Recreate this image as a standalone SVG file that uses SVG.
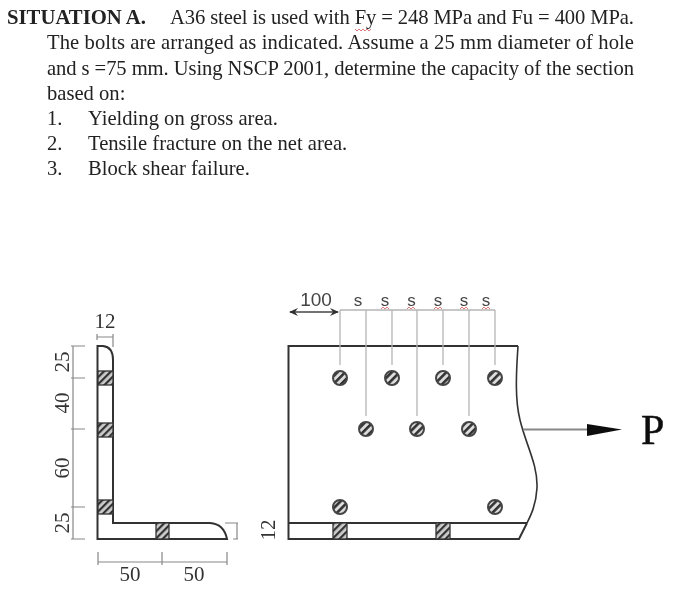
<svg xmlns="http://www.w3.org/2000/svg" width="700" height="598" viewBox="0 0 700 598">
<style>
.t{font-family:"Liberation Serif","Times New Roman",serif;font-size:20.6px;fill:#222}
.d{font-family:"Liberation Serif","Times New Roman",serif;font-size:21px;fill:#333}
.o{fill:none;stroke:#333;stroke-width:2}
.m{fill:none;stroke:#888;stroke-width:1.2}
.g{fill:none;stroke:#b5b5b5;stroke-width:1.3}
.h{fill:url(#hatch);stroke:#333;stroke-width:1.3}
.b{fill:url(#hatch2);stroke:#444;stroke-width:2}
.sq{fill:none;stroke:#d96a6a;stroke-width:.9}
.s{font-family:"Liberation Sans",Arial,sans-serif;font-size:17px;fill:#444}
</style>
<defs>
<pattern id="hatch" width="5" height="5" patternUnits="userSpaceOnUse" patternTransform="rotate(45)"><rect width="5" height="5" fill="#ccc"/><rect width="2.2" height="5" fill="#333"/></pattern>
<pattern id="hatch2" width="5.5" height="5.5" patternUnits="userSpaceOnUse" patternTransform="rotate(-45)"><rect width="5.5" height="5.5" fill="#ddd"/><rect width="5.5" height="2.6" fill="#333"/></pattern>
<marker id="ah" markerWidth="9" markerHeight="8" refX="8" refY="4" orient="auto-start-reverse" markerUnits="userSpaceOnUse"><path d="M0 0L9 4L0 8L3 4Z" fill="#333"/></marker>
<filter id="soft" x="0" y="0" width="100%" height="100%"><feGaussianBlur stdDeviation="0.55"/></filter>
</defs>
<rect width="700" height="598" fill="#fff"/>
<g filter="url(#soft)">
<g id="statement">
<text class="t" x="7" y="24" font-weight="bold" textLength="139" lengthAdjust="spacingAndGlyphs">SITUATION A.</text>
<text class="t" x="170" y="24" textLength="464" lengthAdjust="spacing">A36 steel is used with Fy = 248 MPa and Fu = 400 MPa.</text>
<text class="t" x="47" y="49" textLength="587" lengthAdjust="spacing">The bolts are arranged as indicated. Assume a 25 mm diameter of hole</text>
<text class="t" x="47" y="75" textLength="587" lengthAdjust="spacing">and s =75 mm. Using NSCP 2001, determine the capacity of the section</text>
<text class="t" x="47" y="100">based on:</text>
<text class="t" x="47" y="125">1.</text><text class="t" x="88" y="125">Yielding on gross area.</text>
<text class="t" x="47" y="150">2.</text><text class="t" x="88" y="150">Tensile fracture on the net area.</text>
<text class="t" x="47" y="175">3.</text><text class="t" x="88" y="175">Block shear failure.</text>
<path class="sq" d="M355 29l2 2 2-2 2 2 2-2 2 2 2-2 2 2 2-2"/>
</g>
<g id="angle-section">
<path class="o" d="M97.5 346H103Q113 347 113 360V523H210Q224 524 227 539H97.5Z"/>
<rect class="h" x="98" y="371" width="15" height="14"/>
<rect class="h" x="98" y="423" width="15" height="14"/>
<rect class="h" x="98" y="500" width="15" height="14"/>
<rect class="h" x="156" y="523" width="13" height="16"/>
</g>
<g id="angle-dimensions">
<path class="m" d="M73 346V539M71 346H85M71 378H85M71 429H85M71 507H85M71 539H85"/>
<path class="m" d="M98 552V565M98 562H227M162 552V565M227 552V565"/>
<path class="m" d="M97 334V340M113 334V347M97 337H113"/>
<path class="m" d="M225 523H238M233 539H238M237 523V539"/>
<text class="d" x="105" y="328" text-anchor="middle">12</text>
<text class="d" transform="translate(69 362) rotate(-90)" text-anchor="middle">25</text>
<text class="d" transform="translate(69 403) rotate(-90)" text-anchor="middle">40</text>
<text class="d" transform="translate(69 468) rotate(-90)" text-anchor="middle">60</text>
<text class="d" transform="translate(69 523) rotate(-90)" text-anchor="middle">25</text>
<text class="d" x="130" y="581" text-anchor="middle">50</text>
<text class="d" x="194" y="581" text-anchor="middle">50</text>
<text class="d" transform="translate(275 530) rotate(-90)" text-anchor="middle">12</text>
</g>
<g id="plate">
<path class="o" d="M518 346H288.5V539H519L527 523"/>
<path class="o" d="M288.5 523H527"/>
<path fill="none" stroke="#333" stroke-width="1.6" d="M518 346C516 375 515 400 520 420C526 445 538 465 537 488C536 505 531 515 527 523"/>
<rect class="h" x="333" y="523" width="14" height="16"/>
<rect class="h" x="436" y="523" width="14" height="16"/>
</g>
<g id="bolts">
<circle class="b" cx="340" cy="378" r="7"/><circle class="b" cx="392" cy="378" r="7"/><circle class="b" cx="443" cy="378" r="7"/><circle class="b" cx="495" cy="378" r="7"/>
<circle class="b" cx="366" cy="429" r="7"/><circle class="b" cx="417" cy="429" r="7"/><circle class="b" cx="469" cy="429" r="7"/>
<circle class="b" cx="340" cy="507" r="7"/><circle class="b" cx="495" cy="507" r="7"/>
</g>
<g id="connectors">
<path class="g" d="M340 310V365M366 310V416M392 310V365M417 310V416M443 310V365M469 310V416M495 310V365"/>
<path class="g" d="M340 310H495"/>
<path class="m" style="stroke:#444;stroke-width:1.5" d="M290 312H338" marker-start="url(#ah)" marker-end="url(#ah)"/>
<path stroke="#888" stroke-width="2" d="M523 429.5H590"/>
<path fill="#111" d="M587 424L622 429.5L587 436Z"/>
</g>
<g id="spacing-labels">
<text class="s" x="316" y="306" text-anchor="middle" style="font-size:19px">100</text>
<text class="s" x="358" y="306" text-anchor="middle">s</text>
<text class="s" x="385" y="306" text-anchor="middle">s</text>
<text class="s" x="411.5" y="306" text-anchor="middle">s</text>
<text class="s" x="438" y="306" text-anchor="middle">s</text>
<text class="s" x="464" y="306" text-anchor="middle">s</text>
<text class="s" x="486" y="306" text-anchor="middle">s</text>
<path class="sq" d="M381 309l2-2 2 2 2-2 2 2M407 309l2-2 2 2 2-2 2 2M434 309l2-2 2 2 2-2 2 2M460 309l2-2 2 2 2-2 2 2M482 309l2-2 2 2 2-2 2 2"/>
</g>
<g id="load-label">
<text x="641" y="444" font-family="'Liberation Serif','Times New Roman',serif" font-size="42" fill="#111" stroke="#111" stroke-width=".5">P</text>
</g>
</g>
</svg>
